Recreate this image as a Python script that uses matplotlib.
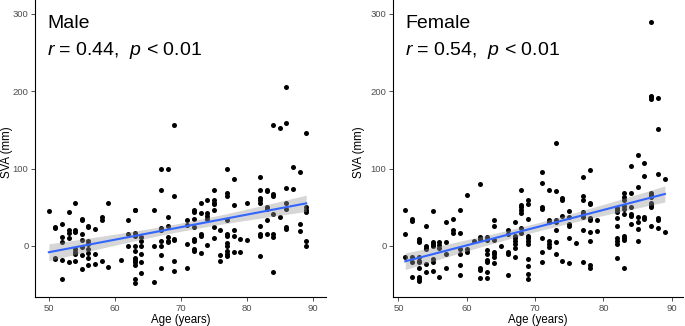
import numpy as np
import matplotlib
matplotlib.use("Agg")
import matplotlib.pyplot as plt

plt.rcParams['font.family'] = ['Liberation Sans', 'DejaVu Sans']
plt.rcParams['mathtext.fontset'] = 'custom'
plt.rcParams['mathtext.rm'] = 'Liberation Sans'
plt.rcParams['mathtext.it'] = 'Liberation Sans:italic'

# ---- data (age in years, SVA in mm) ----
male_age = [50,
            51,51,51,51,
            52,52,52,52,52,
            53,53,53,53,53,
            54,54,54,54,54,54,54,
            55,55,55,55,55,55,55,
            56,56,56,56,56,56,56,56,
            57,57,57,
            58,58,58,
            59,59,
            61,
            62,62,62,
            63,63,63,63,63,63,63,63,63,63,63,63,
            64,64,64,64,64,64,
            66,66,66,
            67,67,67,67,67,67,67,67,
            68,68,68,68,68,68,
            69,69,69,69,69,69,
            71,71,71,71,
            72,72,72,72,72,72,72,72,
            73,73,73,73,73,
            74,74,74,74,74,
            75,75,75,75,75,75,75,
            76,76,76,
            77,77,77,77,77,77,77,77,77,77,77,
            78,78,78,78,78,
            79,79,
            80,80,
            82,82,82,82,82,82,82,82,82,
            83,83,83,83,83,83,
            84,84,84,84,84,84,84,
            85,85,
            86,86,86,86,86,86,86,
            87,87,
            88,88,88,
            89,89,89,89,89,89]
male_sva = [45,
            25,23,-15,-17,
            28,11,5,-18,-43,
            44,20,17,10,-21,
            56,20,18,-4,-8,-11,-19,
            35,34,15,8,-1,-12,-30,
            26,24,6,3,-4,-9,-15,-24,
            22,-11,-23,
            38,33,-19,
            56,-27,
            -18,
            34,15,0,
            47,46,17,13,0,-7,-15,-18,-21,-25,-43,-48,
            11,7,0,-10,-21,-35,
            47,0,-47,
            99,72,23,20,6,0,-12,-29,
            99,38,26,11,7,5,
            156,65,9,8,-19,-33,
            34,27,3,-29,
            46,44,35,24,9,7,-4,-6,
            56,42,16,13,-9,
            60,42,39,35,1,
            72,60,56,54,46,24,10,
            21,-12,-19,
            100,68,65,33,16,13,4,0,-6,-10,-13,
            86,53,20,13,-8,
            9,-8,
            56,8,
            89,72,62,59,56,26,16,13,-13,
            72,71,50,48,33,16,
            156,67,65,41,15,11,-34,
            153,38,
            206,159,75,56,48,24,22,
            102,74,
            95,28,19,
            146,50,47,44,6,0]

female_age = [51,51,51,
              52,52,52,52,52,
              53,53,53,53,53,53,53,53,53,53,
              54,54,54,54,54,54,
              55,55,55,55,55,55,55,
              56,56,56,56,
              57,57,57,57,
              58,58,58,
              59,59,59,59,59,59,
              60,60,60,
              61,
              62,62,62,62,62,62,
              63,63,63,63,63,63,63,63,
              64,64,64,64,64,64,64,
              65,
              66,66,66,66,66,
              67,67,67,67,67,67,67,
              68,68,68,68,68,68,68,
              69,69,69,69,69,69,69,69,69,69,69,
              71,71,71,71,71,71,71,
              72,72,72,72,72,72,
              73,73,73,73,73,73,73,
              74,74,74,74,
              75,75,75,75,75,75,
              76,
              77,77,77,77,77,77,77,77,
              78,78,78,78,78,78,78,78,78,
              79,79,
              82,82,82,82,82,82,82,82,82,
              83,83,83,83,83,83,83,83,83,83,
              84,84,84,84,84,84,
              85,85,85,85,85,85,
              86,86,86,86,
              87,87,87,87,87,87,87,87,87,87,87,
              88,88,88,88,88,88,
              89,89]
female_sva = [46,16,-14,
              35,32,-14,-21,-40,
              9,7,5,-14,-19,-21,-28,-40,-43,-45,
              26,0,-2,-4,-23,-34,
              45,5,3,0,-17,-21,-33,
              5,1,-3,-40,
              31,5,-10,-29,
              35,20,17,
              46,17,-4,-11,-25,-38,
              66,-4,-8,
              6,
              80,11,9,-28,-31,-42,
              11,8,-5,-11,-18,-21,-34,-42,
              34,26,8,-8,-11,-14,-22,
              0,
              21,16,-8,-11,-38,
              31,13,10,7,3,-2,-14,
              72,53,50,47,42,23,17,
              59,54,35,13,10,7,3,-17,-26,-36,-43,
              96,82,51,48,10,-8,-21,
              72,34,31,7,3,-1,
              133,71,34,31,21,5,-10,
              62,59,39,-20,
              45,37,29,26,10,-22,
              4,
              89,64,60,44,41,38,20,-21,
              98,56,54,36,34,18,7,-25,-29,
              34,19,
              49,47,44,36,26,10,7,3,-15,
              68,63,60,52,48,41,13,10,8,-29,
              103,68,51,41,39,28,
              117,76,38,31,22,6,
              107,90,37,35,
              290,194,192,190,69,66,63,56,53,51,26,
              191,151,93,36,34,23,
              87,18]

titles = ["Male", "Female"]
r_values = ["0.44", "0.54"]
p_text = "0.01"

W, H = 685, 326
panels = [(titles[0], r_values[0], male_age, male_sva),
          (titles[1], r_values[1], female_age, female_sva)]
xlims = [(47.9, 92.0), (49.2, 91.65)]
# pixel geometry: (left, right) of axes, ylabel x center
geo = [(35, 326, 7), (393, 683, 359)]
ax_bottom_px = 297

fig = plt.figure(figsize=(W/100, H/100), dpi=100)
tick_color = "#4d4d4d"

for (title, rv, ages, svas), xl, (l, r, ylx) in zip(panels, xlims, geo):
    ax = fig.add_axes([l/W, (H-ax_bottom_px)/H, (r-l)/W, ax_bottom_px/H])
    x = np.array(ages, float)
    y = np.array(svas, float)
    n = len(x)
    b, a = np.polyfit(x, y, 1)
    xs = np.linspace(x.min(), x.max(), 100)
    yhat = a + b * xs
    resid = y - (a + b * x)
    s = np.sqrt(np.sum(resid**2) / (n - 2))
    sxx = np.sum((x - x.mean())**2)
    se = s * np.sqrt(1/n + (xs - x.mean())**2 / sxx)
    tval = 1.97
    ax.scatter(x, y, s=13, color="black", linewidths=0, zorder=2)
    ax.fill_between(xs, yhat - tval*se, yhat + tval*se, color="#999999", alpha=0.4, linewidth=0, zorder=3)
    ax.plot(xs, yhat, color="#3366FF", lw=1.5, zorder=4)

    ax.set_xlim(*xl)
    ax.set_ylim(-66, 318)
    ax.set_xticks([50, 60, 70, 80, 90])
    ax.set_yticks([0, 100, 200, 300])
    for sp in ["top", "right"]:
        ax.spines[sp].set_visible(False)
    for sp in ["left", "bottom"]:
        ax.spines[sp].set_linewidth(0.8)
        ax.spines[sp].set_color("black")
    ax.tick_params(axis="both", labelsize=6.8, labelcolor=tick_color, color="#333333",
                   length=2.7, width=0.6, pad=2)

    fig.text((l + r)/2/W, 1 - 320/H, "Age (years)", fontsize=8.3, ha="center", va="center")
    fig.text(ylx/W, 1 - 152/H, "SVA (mm)", fontsize=8.3, ha="center", va="center", rotation=90)

    fig.text((l + 12)/W, 1 - 28/H, title, fontsize=14, va="baseline", ha="left")
    fig.text((l + 12)/W, 1 - 55/H, r"$\it{r}$ = " + rv + r",  $\it{p}$ < " + p_text,
             fontsize=14, va="baseline", ha="left")

fig.savefig("out.png", dpi=100)
